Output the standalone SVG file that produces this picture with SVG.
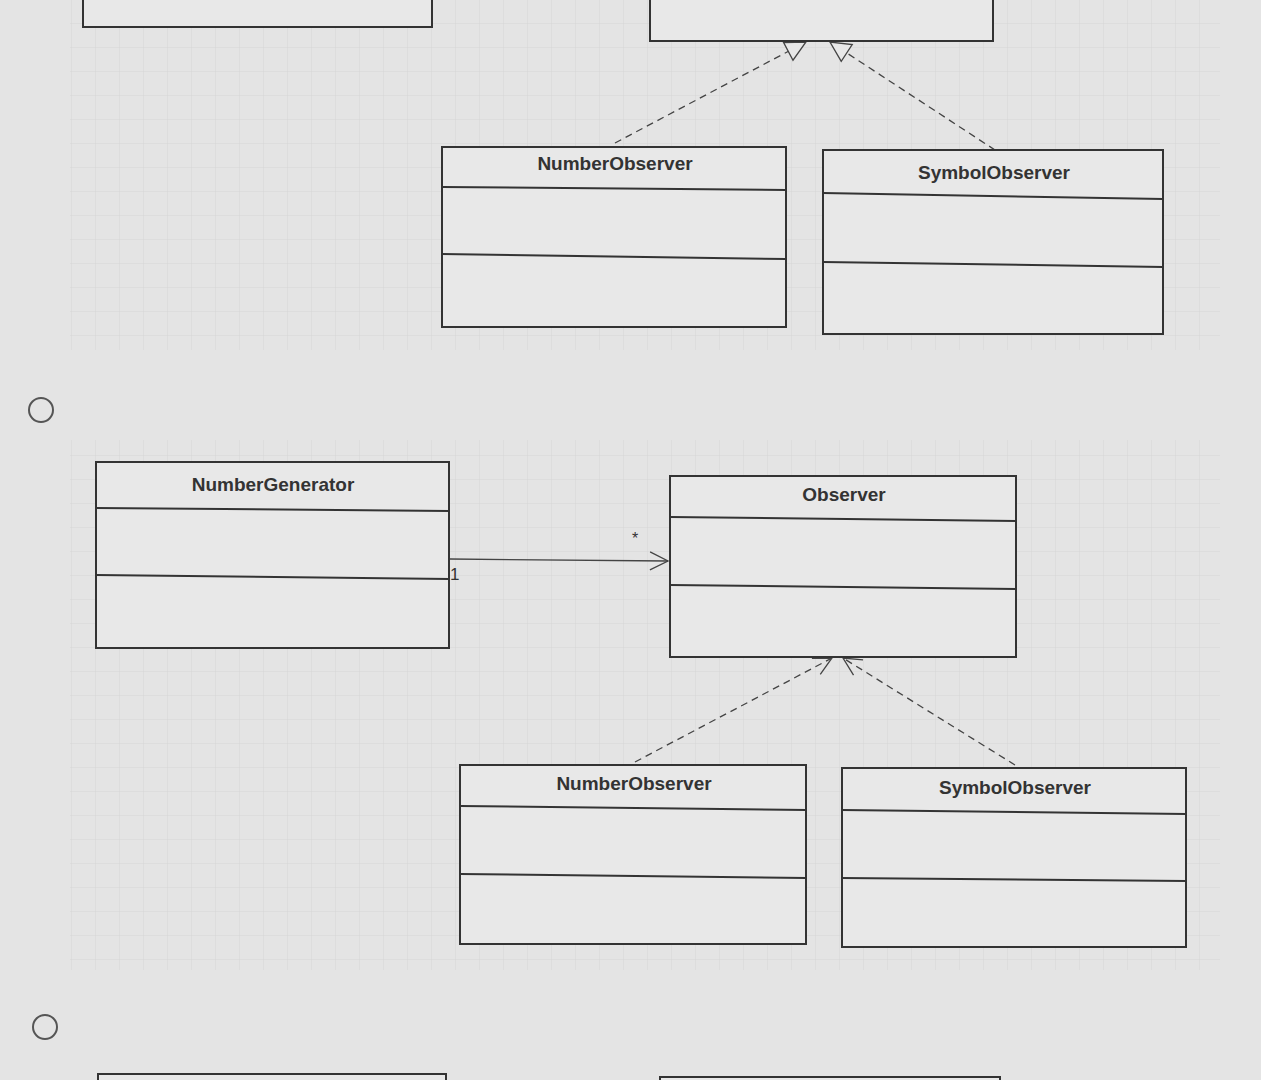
<svg xmlns="http://www.w3.org/2000/svg" width="1261" height="1080" viewBox="0 0 1261 1080">
<defs>
<style>
.box{fill:#e8e8e8;stroke:#333;stroke-width:2}
.ln{stroke:#333;stroke-width:2}
.t{font-family:"Liberation Sans",Arial,sans-serif;font-weight:bold;font-size:19px;fill:#333;text-anchor:middle}
.d{fill:none;stroke:#444;stroke-width:1.3;stroke-dasharray:7,5}
.c{fill:none;stroke:#555;stroke-width:2}
</style>
<pattern id="g" width="24" height="24" patternUnits="userSpaceOnUse"><path d="M24 0V24H0" fill="none" stroke="#d6d6d6" stroke-width="1"/></pattern>
<marker id="tri" markerWidth="24" markerHeight="24" refX="22" refY="12" orient="auto" markerUnits="userSpaceOnUse"><path d="M2 2L22 12L2 22Z" fill="#e8e8e8" stroke="#444" stroke-width="1.3"/></marker>
<marker id="open" markerWidth="24" markerHeight="24" refX="20" refY="12" orient="auto" markerUnits="userSpaceOnUse"><path d="M2 3L20 12L2 21" fill="none" stroke="#444" stroke-width="1.3"/></marker>
</defs>
<rect width="1261" height="1080" fill="#e4e4e4"/>
<rect x="70" y="0" width="1150" height="350" fill="url(#g)"/>
<rect x="70" y="440" width="1150" height="530" fill="url(#g)"/>
<g id="connectors">
<line class="d" x1="615" y1="143" x2="806" y2="42" marker-end="url(#tri)"/>
<line class="d" x1="995" y1="150" x2="830" y2="42" marker-end="url(#tri)"/>
<line x1="450" y1="559" x2="668" y2="561" stroke="#444" stroke-width="1.3" marker-end="url(#open)"/>
<text x="450" y="580" font-family="Liberation Sans,Arial,sans-serif" font-size="17" fill="#333">1</text>
<text x="635" y="544" font-family="Liberation Sans,Arial,sans-serif" font-size="16" fill="#333" text-anchor="middle">*</text>
<line class="d" x1="635" y1="762" x2="832" y2="658" marker-end="url(#open)"/>
<line class="d" x1="1015" y1="765" x2="843" y2="658" marker-end="url(#open)"/>
</g>
<g id="topLeft"><rect class="box" x="83" y="-10" width="349" height="37"/></g>
<g id="topMid"><rect class="box" x="650" y="-10" width="343" height="51"/></g>
<g id="numberObserver1">
<rect class="box" x="442" y="147" width="344" height="180"/>
<line class="ln" x1="442" y1="187" x2="786" y2="190"/><line class="ln" x1="442" y1="254" x2="786" y2="259"/>
<text class="t" x="615" y="170">NumberObserver</text></g>
<g id="symbolObserver1">
<rect class="box" x="823" y="150" width="340" height="184"/>
<line class="ln" x1="823" y1="193" x2="1163" y2="199"/><line class="ln" x1="823" y1="262" x2="1163" y2="267"/>
<text class="t" x="994" y="179">SymbolObserver</text></g>
<circle cx="41" cy="410" r="12" class="c"/>
<g id="numberGenerator">
<rect class="box" x="96" y="462" width="353" height="186"/>
<line class="ln" x1="96" y1="508" x2="449" y2="511"/><line class="ln" x1="96" y1="575" x2="449" y2="579"/>
<text class="t" x="273" y="491">NumberGenerator</text></g>
<g id="observer">
<rect class="box" x="670" y="476" width="346" height="181"/>
<line class="ln" x1="670" y1="517" x2="1016" y2="521"/><line class="ln" x1="670" y1="585" x2="1016" y2="589"/>
<text class="t" x="844" y="501">Observer</text></g>
<g id="numberObserver2">
<rect class="box" x="460" y="765" width="346" height="179"/>
<line class="ln" x1="460" y1="806" x2="806" y2="810"/><line class="ln" x1="460" y1="874" x2="806" y2="878"/>
<text class="t" x="634" y="790">NumberObserver</text></g>
<g id="symbolObserver2">
<rect class="box" x="842" y="768" width="344" height="179"/>
<line class="ln" x1="842" y1="810" x2="1186" y2="814"/><line class="ln" x1="842" y1="878" x2="1186" y2="881"/>
<text class="t" x="1015" y="794">SymbolObserver</text></g>
<circle cx="45" cy="1027" r="12" class="c"/>
<g id="bottomLeft"><rect class="box" x="98" y="1074" width="348" height="20"/></g>
<g id="bottomMid"><rect class="box" x="660" y="1077" width="340" height="20"/></g>
</svg>
